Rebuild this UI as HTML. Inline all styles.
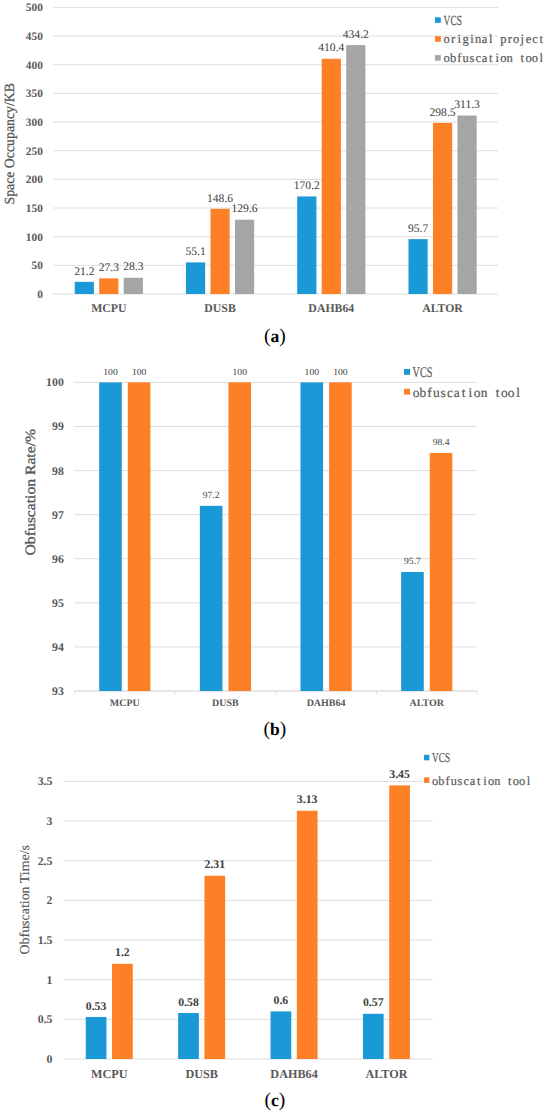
<!DOCTYPE html>
<html><head><meta charset="utf-8"><title>Charts</title>
<style>
html,body{margin:0;padding:0;background:#fff;}
body{width:550px;height:1113px;overflow:hidden;font-family:"Liberation Serif", serif;}
svg{display:block;text-rendering:geometricPrecision;}
</style></head>
<body>
<svg width="550" height="1113" viewBox="0 0 550 1113">
<rect x="0" y="0" width="550" height="1113" fill="#fff"/>
<rect x="53.20" y="293.50" width="445.00" height="1.00" fill="#dddddd"/>
<text x="42.80" y="297.90" font-size="11.3" fill="#595959" text-anchor="end" font-weight="bold" font-family='"Liberation Serif", serif' >0</text>
<rect x="53.20" y="264.84" width="445.00" height="1.00" fill="#dddddd"/>
<text x="42.80" y="269.24" font-size="11.3" fill="#595959" text-anchor="end" font-weight="bold" font-family='"Liberation Serif", serif' >50</text>
<rect x="53.20" y="236.18" width="445.00" height="1.00" fill="#dddddd"/>
<text x="42.80" y="240.58" font-size="11.3" fill="#595959" text-anchor="end" font-weight="bold" font-family='"Liberation Serif", serif' >100</text>
<rect x="53.20" y="207.52" width="445.00" height="1.00" fill="#dddddd"/>
<text x="42.80" y="211.92" font-size="11.3" fill="#595959" text-anchor="end" font-weight="bold" font-family='"Liberation Serif", serif' >150</text>
<rect x="53.20" y="178.86" width="445.00" height="1.00" fill="#dddddd"/>
<text x="42.80" y="183.26" font-size="11.3" fill="#595959" text-anchor="end" font-weight="bold" font-family='"Liberation Serif", serif' >200</text>
<rect x="53.20" y="150.20" width="445.00" height="1.00" fill="#dddddd"/>
<text x="42.80" y="154.60" font-size="11.3" fill="#595959" text-anchor="end" font-weight="bold" font-family='"Liberation Serif", serif' >250</text>
<rect x="53.20" y="121.54" width="445.00" height="1.00" fill="#dddddd"/>
<text x="42.80" y="125.94" font-size="11.3" fill="#595959" text-anchor="end" font-weight="bold" font-family='"Liberation Serif", serif' >300</text>
<rect x="53.20" y="92.88" width="445.00" height="1.00" fill="#dddddd"/>
<text x="42.80" y="97.28" font-size="11.3" fill="#595959" text-anchor="end" font-weight="bold" font-family='"Liberation Serif", serif' >350</text>
<rect x="53.20" y="64.22" width="445.00" height="1.00" fill="#dddddd"/>
<text x="42.80" y="68.62" font-size="11.3" fill="#595959" text-anchor="end" font-weight="bold" font-family='"Liberation Serif", serif' >400</text>
<rect x="53.20" y="35.56" width="445.00" height="1.00" fill="#dddddd"/>
<text x="42.80" y="39.96" font-size="11.3" fill="#595959" text-anchor="end" font-weight="bold" font-family='"Liberation Serif", serif' >450</text>
<rect x="53.20" y="6.90" width="445.00" height="1.00" fill="#dddddd"/>
<text x="42.80" y="11.30" font-size="11.3" fill="#595959" text-anchor="end" font-weight="bold" font-family='"Liberation Serif", serif' >500</text>
<rect x="74.73" y="281.85" width="19.20" height="12.15" fill="#1b98d6"/>
<text x="84.33" y="274.55" font-size="11.6" fill="#404040" text-anchor="middle" font-weight="normal" font-family='"Liberation Serif", serif' >21.2</text>
<rect x="99.23" y="278.35" width="19.20" height="15.65" fill="#fd7f26"/>
<text x="108.83" y="271.05" font-size="11.6" fill="#404040" text-anchor="middle" font-weight="normal" font-family='"Liberation Serif", serif' >27.3</text>
<rect x="123.72" y="277.78" width="19.20" height="16.22" fill="#a5a5a5"/>
<text x="133.32" y="270.48" font-size="11.6" fill="#404040" text-anchor="middle" font-weight="normal" font-family='"Liberation Serif", serif' >28.3</text>
<text x="108.83" y="311.60" font-size="11.8" fill="#595959" text-anchor="middle" font-weight="bold" font-family='"Liberation Serif", serif' >MCPU</text>
<rect x="185.97" y="262.42" width="19.20" height="31.58" fill="#1b98d6"/>
<text x="195.57" y="255.12" font-size="11.6" fill="#404040" text-anchor="middle" font-weight="normal" font-family='"Liberation Serif", serif' >55.1</text>
<rect x="210.47" y="208.82" width="19.20" height="85.18" fill="#fd7f26"/>
<text x="220.07" y="201.52" font-size="11.6" fill="#404040" text-anchor="middle" font-weight="normal" font-family='"Liberation Serif", serif' >148.6</text>
<rect x="234.97" y="219.71" width="19.20" height="74.29" fill="#a5a5a5"/>
<text x="244.57" y="212.41" font-size="11.6" fill="#404040" text-anchor="middle" font-weight="normal" font-family='"Liberation Serif", serif' >129.6</text>
<text x="220.07" y="311.60" font-size="11.8" fill="#595959" text-anchor="middle" font-weight="bold" font-family='"Liberation Serif", serif' >DUSB</text>
<rect x="297.22" y="196.44" width="19.20" height="97.56" fill="#1b98d6"/>
<text x="306.82" y="189.14" font-size="11.6" fill="#404040" text-anchor="middle" font-weight="normal" font-family='"Liberation Serif", serif' >170.2</text>
<rect x="321.72" y="58.76" width="19.20" height="235.24" fill="#fd7f26"/>
<text x="331.32" y="51.46" font-size="11.6" fill="#404040" text-anchor="middle" font-weight="normal" font-family='"Liberation Serif", serif' >410.4</text>
<rect x="346.22" y="45.12" width="19.20" height="248.88" fill="#a5a5a5"/>
<text x="355.82" y="37.82" font-size="11.6" fill="#404040" text-anchor="middle" font-weight="normal" font-family='"Liberation Serif", serif' >434.2</text>
<text x="331.32" y="311.60" font-size="11.8" fill="#595959" text-anchor="middle" font-weight="bold" font-family='"Liberation Serif", serif' >DAHB64</text>
<rect x="408.47" y="239.14" width="19.20" height="54.86" fill="#1b98d6"/>
<text x="418.07" y="231.84" font-size="11.6" fill="#404040" text-anchor="middle" font-weight="normal" font-family='"Liberation Serif", serif' >95.7</text>
<rect x="432.97" y="122.90" width="19.20" height="171.10" fill="#fd7f26"/>
<text x="442.57" y="115.60" font-size="11.6" fill="#404040" text-anchor="middle" font-weight="normal" font-family='"Liberation Serif", serif' >298.5</text>
<rect x="457.47" y="115.56" width="19.20" height="178.44" fill="#a5a5a5"/>
<text x="467.07" y="108.26" font-size="11.6" fill="#404040" text-anchor="middle" font-weight="normal" font-family='"Liberation Serif", serif' >311.3</text>
<text x="442.57" y="311.60" font-size="11.8" fill="#595959" text-anchor="middle" font-weight="bold" font-family='"Liberation Serif", serif' >ALTOR</text>
<text x="0.00" y="0.00" font-size="14" fill="#595959" text-anchor="middle" font-weight="normal" font-family='"Liberation Serif", serif' stroke="#595959" stroke-width="0.3" textLength="121.5" lengthAdjust="spacingAndGlyphs" transform="translate(13.6 143.8) rotate(-90)">Space Occupancy/KB</text>
<rect x="435.00" y="17.30" width="5.80" height="5.60" fill="#1b98d6"/>
<text x="443.60" y="24.60" font-size="13.86" fill="#595959" stroke="#595959" stroke-width="0.2" font-family='"Liberation Serif", serif' textLength="18.30" lengthAdjust="spacingAndGlyphs">VCS</text>
<rect x="435.00" y="36.20" width="5.80" height="5.60" fill="#fd7f26"/>
<text x="446.75 453.05 459.35 465.65 471.95 478.25 484.55 490.85 503.45 509.75 516.05 522.35 528.65 534.95 541.25" y="43.00" font-size="12.6" fill="#595959" text-anchor="middle" stroke="#595959" stroke-width="0.2" font-family='"Liberation Serif", serif'>originalproject</text>
<rect x="435.00" y="55.10" width="5.80" height="5.60" fill="#a5a5a5"/>
<text x="446.75 453.05 459.35 465.65 471.95 478.25 484.55 490.85 497.15 503.45 509.75 522.35 528.65 534.95 541.25" y="61.50" font-size="12.6" fill="#595959" text-anchor="middle" stroke="#595959" stroke-width="0.2" font-family='"Liberation Serif", serif'>obfuscationtool</text>
<text x="274.80" y="341.80" fill="#000" text-anchor="middle" font-family='"Liberation Serif", serif' font-size="19.5">(<tspan font-size="17.5" font-weight="bold">a</tspan>)</text>
<rect x="74.50" y="690.30" width="402.10" height="1.40" fill="#dddddd"/>
<text x="63.80" y="695.00" font-size="11.8" fill="#595959" text-anchor="end" font-weight="bold" font-family='"Liberation Serif", serif' >93</text>
<rect x="74.50" y="646.41" width="402.10" height="1.00" fill="#dddddd"/>
<text x="63.80" y="650.91" font-size="11.8" fill="#595959" text-anchor="end" font-weight="bold" font-family='"Liberation Serif", serif' >94</text>
<rect x="74.50" y="602.33" width="402.10" height="1.00" fill="#dddddd"/>
<text x="63.80" y="606.83" font-size="11.8" fill="#595959" text-anchor="end" font-weight="bold" font-family='"Liberation Serif", serif' >95</text>
<rect x="74.50" y="558.24" width="402.10" height="1.00" fill="#dddddd"/>
<text x="63.80" y="562.74" font-size="11.8" fill="#595959" text-anchor="end" font-weight="bold" font-family='"Liberation Serif", serif' >96</text>
<rect x="74.50" y="514.16" width="402.10" height="1.00" fill="#dddddd"/>
<text x="63.80" y="518.66" font-size="11.8" fill="#595959" text-anchor="end" font-weight="bold" font-family='"Liberation Serif", serif' >97</text>
<rect x="74.50" y="470.07" width="402.10" height="1.00" fill="#dddddd"/>
<text x="63.80" y="474.57" font-size="11.8" fill="#595959" text-anchor="end" font-weight="bold" font-family='"Liberation Serif", serif' >98</text>
<rect x="74.50" y="425.99" width="402.10" height="1.00" fill="#dddddd"/>
<text x="63.80" y="430.49" font-size="11.8" fill="#595959" text-anchor="end" font-weight="bold" font-family='"Liberation Serif", serif' >99</text>
<rect x="74.50" y="381.90" width="402.10" height="1.00" fill="#dddddd"/>
<text x="63.80" y="386.40" font-size="11.8" fill="#595959" text-anchor="end" font-weight="bold" font-family='"Liberation Serif", serif' >100</text>
<rect x="73.97" y="691.00" width="1.00" height="3.50" fill="#dddddd"/>
<rect x="174.62" y="691.00" width="1.00" height="3.50" fill="#dddddd"/>
<rect x="275.27" y="691.00" width="1.00" height="3.50" fill="#dddddd"/>
<rect x="375.93" y="691.00" width="1.00" height="3.50" fill="#dddddd"/>
<rect x="476.58" y="691.00" width="1.00" height="3.50" fill="#dddddd"/>
<rect x="99.20" y="382.40" width="22.60" height="308.60" fill="#1b98d6"/>
<text x="110.50" y="374.80" font-size="9.6" fill="#404040" text-anchor="middle" font-weight="normal" font-family='"Liberation Serif", serif' >100</text>
<rect x="127.80" y="382.40" width="22.60" height="308.60" fill="#fd7f26"/>
<text x="139.10" y="374.80" font-size="9.6" fill="#404040" text-anchor="middle" font-weight="normal" font-family='"Liberation Serif", serif' >100</text>
<text x="124.80" y="705.50" font-size="10" fill="#595959" text-anchor="middle" font-weight="bold" font-family='"Liberation Serif", serif' >MCPU</text>
<rect x="199.85" y="505.84" width="22.60" height="185.16" fill="#1b98d6"/>
<text x="211.15" y="498.24" font-size="9.6" fill="#404040" text-anchor="middle" font-weight="normal" font-family='"Liberation Serif", serif' >97.2</text>
<rect x="228.45" y="382.40" width="22.60" height="308.60" fill="#fd7f26"/>
<text x="239.75" y="374.80" font-size="9.6" fill="#404040" text-anchor="middle" font-weight="normal" font-family='"Liberation Serif", serif' >100</text>
<text x="225.45" y="705.50" font-size="10" fill="#595959" text-anchor="middle" font-weight="bold" font-family='"Liberation Serif", serif' >DUSB</text>
<rect x="300.50" y="382.40" width="22.60" height="308.60" fill="#1b98d6"/>
<text x="311.80" y="374.80" font-size="9.6" fill="#404040" text-anchor="middle" font-weight="normal" font-family='"Liberation Serif", serif' >100</text>
<rect x="329.10" y="382.40" width="22.60" height="308.60" fill="#fd7f26"/>
<text x="340.40" y="374.80" font-size="9.6" fill="#404040" text-anchor="middle" font-weight="normal" font-family='"Liberation Serif", serif' >100</text>
<text x="326.10" y="705.50" font-size="10" fill="#595959" text-anchor="middle" font-weight="bold" font-family='"Liberation Serif", serif' >DAHB64</text>
<rect x="401.15" y="571.97" width="22.60" height="119.03" fill="#1b98d6"/>
<text x="412.45" y="564.37" font-size="9.6" fill="#404040" text-anchor="middle" font-weight="normal" font-family='"Liberation Serif", serif' >95.7</text>
<rect x="429.75" y="452.94" width="22.60" height="238.06" fill="#fd7f26"/>
<text x="441.05" y="445.34" font-size="9.6" fill="#404040" text-anchor="middle" font-weight="normal" font-family='"Liberation Serif", serif' >98.4</text>
<text x="426.75" y="705.50" font-size="10" fill="#595959" text-anchor="middle" font-weight="bold" font-family='"Liberation Serif", serif' >ALTOR</text>
<text x="0.00" y="0.00" font-size="14.2" fill="#595959" text-anchor="middle" font-weight="normal" font-family='"Liberation Serif", serif' stroke="#595959" stroke-width="0.35" textLength="126.5" lengthAdjust="spacingAndGlyphs" transform="translate(34.5 492.2) rotate(-90)">Obfuscation Rate/%</text>
<rect x="404.00" y="369.00" width="6.00" height="5.80" fill="#1b98d6"/>
<text x="412.60" y="376.70" font-size="14.74" fill="#595959" stroke="#595959" stroke-width="0.2" font-family='"Liberation Serif", serif' textLength="19.80" lengthAdjust="spacingAndGlyphs">VCS</text>
<rect x="404.00" y="388.80" width="6.00" height="5.80" fill="#fd7f26"/>
<text x="416.00 422.80 429.60 436.40 443.20 450.00 456.80 463.60 470.40 477.20 484.00 497.60 504.40 511.20 518.00" y="396.70" font-size="13.4" fill="#595959" text-anchor="middle" stroke="#595959" stroke-width="0.2" font-family='"Liberation Serif", serif'>obfuscationtool</text>
<text x="274.80" y="734.50" fill="#000" text-anchor="middle" font-family='"Liberation Serif", serif' font-size="19.5">(<tspan font-size="17.5" font-weight="bold">b</tspan>)</text>
<rect x="63.60" y="1058.50" width="368.80" height="1.00" fill="#dddddd"/>
<text x="52.40" y="1063.00" font-size="11.8" fill="#595959" text-anchor="end" font-weight="bold" font-family='"Liberation Serif", serif' >0</text>
<rect x="63.60" y="1018.84" width="368.80" height="1.00" fill="#dddddd"/>
<text x="52.40" y="1023.34" font-size="11.8" fill="#595959" text-anchor="end" font-weight="bold" font-family='"Liberation Serif", serif' >0.5</text>
<rect x="63.60" y="979.19" width="368.80" height="1.00" fill="#dddddd"/>
<text x="52.40" y="983.69" font-size="11.8" fill="#595959" text-anchor="end" font-weight="bold" font-family='"Liberation Serif", serif' >1</text>
<rect x="63.60" y="939.53" width="368.80" height="1.00" fill="#dddddd"/>
<text x="52.40" y="944.03" font-size="11.8" fill="#595959" text-anchor="end" font-weight="bold" font-family='"Liberation Serif", serif' >1.5</text>
<rect x="63.60" y="899.87" width="368.80" height="1.00" fill="#dddddd"/>
<text x="52.40" y="904.37" font-size="11.8" fill="#595959" text-anchor="end" font-weight="bold" font-family='"Liberation Serif", serif' >2</text>
<rect x="63.60" y="860.21" width="368.80" height="1.00" fill="#dddddd"/>
<text x="52.40" y="864.71" font-size="11.8" fill="#595959" text-anchor="end" font-weight="bold" font-family='"Liberation Serif", serif' >2.5</text>
<rect x="63.60" y="820.56" width="368.80" height="1.00" fill="#dddddd"/>
<text x="52.40" y="825.06" font-size="11.8" fill="#595959" text-anchor="end" font-weight="bold" font-family='"Liberation Serif", serif' >3</text>
<rect x="63.60" y="780.90" width="359.60" height="1.00" fill="#dddddd"/>
<text x="52.40" y="785.40" font-size="11.8" fill="#595959" text-anchor="end" font-weight="bold" font-family='"Liberation Serif", serif' >3.5</text>
<rect x="85.75" y="1016.96" width="20.70" height="42.04" fill="#1b98d6"/>
<text x="96.10" y="1009.56" font-size="11.8" fill="#404040" text-anchor="middle" font-weight="bold" font-family='"Liberation Serif", serif' >0.53</text>
<rect x="112.05" y="963.82" width="20.70" height="95.18" fill="#fd7f26"/>
<text x="122.40" y="956.42" font-size="11.8" fill="#404040" text-anchor="middle" font-weight="bold" font-family='"Liberation Serif", serif' >1.2</text>
<text x="109.25" y="1077.90" font-size="12.2" fill="#595959" text-anchor="middle" font-weight="bold" font-family='"Liberation Serif", serif' >MCPU</text>
<rect x="178.15" y="1013.00" width="20.70" height="46.00" fill="#1b98d6"/>
<text x="188.50" y="1005.60" font-size="11.8" fill="#404040" text-anchor="middle" font-weight="bold" font-family='"Liberation Serif", serif' >0.58</text>
<rect x="204.45" y="875.78" width="20.70" height="183.22" fill="#fd7f26"/>
<text x="214.80" y="868.38" font-size="11.8" fill="#404040" text-anchor="middle" font-weight="bold" font-family='"Liberation Serif", serif' >2.31</text>
<text x="201.65" y="1077.90" font-size="12.2" fill="#595959" text-anchor="middle" font-weight="bold" font-family='"Liberation Serif", serif' >DUSB</text>
<rect x="270.55" y="1011.41" width="20.70" height="47.59" fill="#1b98d6"/>
<text x="280.90" y="1004.01" font-size="11.8" fill="#404040" text-anchor="middle" font-weight="bold" font-family='"Liberation Serif", serif' >0.6</text>
<rect x="296.85" y="810.75" width="20.70" height="248.25" fill="#fd7f26"/>
<text x="307.20" y="803.35" font-size="11.8" fill="#404040" text-anchor="middle" font-weight="bold" font-family='"Liberation Serif", serif' >3.13</text>
<text x="294.05" y="1077.90" font-size="12.2" fill="#595959" text-anchor="middle" font-weight="bold" font-family='"Liberation Serif", serif' >DAHB64</text>
<rect x="362.95" y="1013.79" width="20.70" height="45.21" fill="#1b98d6"/>
<text x="373.30" y="1006.39" font-size="11.8" fill="#404040" text-anchor="middle" font-weight="bold" font-family='"Liberation Serif", serif' >0.57</text>
<rect x="389.25" y="785.37" width="20.70" height="273.63" fill="#fd7f26"/>
<text x="399.60" y="777.97" font-size="11.8" fill="#404040" text-anchor="middle" font-weight="bold" font-family='"Liberation Serif", serif' >3.45</text>
<text x="386.45" y="1077.90" font-size="12.2" fill="#595959" text-anchor="middle" font-weight="bold" font-family='"Liberation Serif", serif' >ALTOR</text>
<text x="0.00" y="0.00" font-size="13.6" fill="#595959" text-anchor="middle" font-weight="normal" font-family='"Liberation Serif", serif' stroke="#595959" stroke-width="0.15" textLength="109.5" lengthAdjust="spacingAndGlyphs" transform="translate(28.9 899.75) rotate(-90)">Obfuscation Time/s</text>
<rect x="424.00" y="754.80" width="5.40" height="5.50" fill="#1b98d6"/>
<text x="432.00" y="761.90" font-size="13.64" fill="#595959" stroke="#595959" stroke-width="0.2" font-family='"Liberation Serif", serif' textLength="18.06" lengthAdjust="spacingAndGlyphs">VCS</text>
<rect x="424.00" y="777.40" width="5.40" height="5.50" fill="#fd7f26"/>
<text x="435.11 441.33 447.55 453.77 459.99 466.21 472.43 478.65 484.87 491.09 497.31 509.75 515.97 522.19 528.41" y="784.80" font-size="12.4" fill="#595959" text-anchor="middle" stroke="#595959" stroke-width="0.2" font-family='"Liberation Serif", serif'>obfuscationtool</text>
<text x="274.90" y="1105.80" fill="#000" text-anchor="middle" font-family='"Liberation Serif", serif' font-size="19.5">(<tspan font-size="17.5" font-weight="bold">c</tspan>)</text>
</svg>
</body></html>
